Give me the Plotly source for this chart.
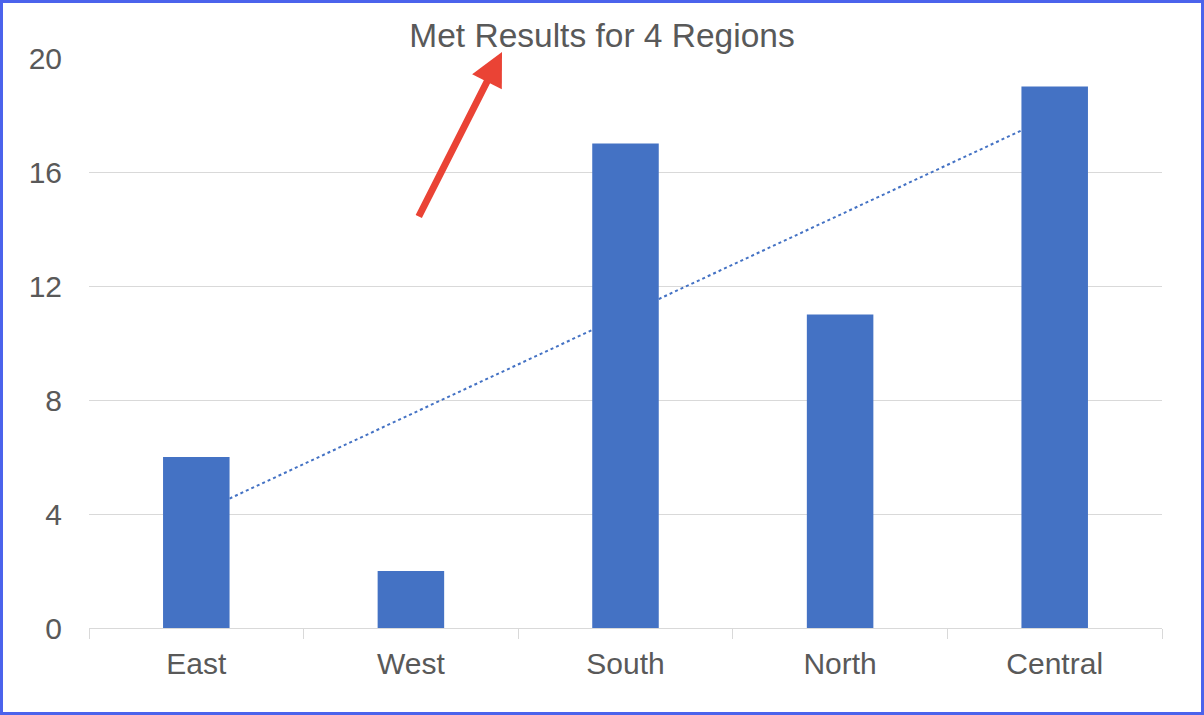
import numpy as np
import plotly.graph_objects as go

categories = ["East", "West", "South", "North", "Central"]
values = [6, 2, 17, 11, 19]
y_ticks = [0, 4, 8, 12, 16, 20]
title_text = "Met Results for 4 Regions"

W, H = 1204, 715
ML, MR, MT, MB = 89, 42, 58, 87
PW, PH = W - ML - MR, H - MT - MB
BAR_W = 0.31
TEXT = "#595959"
GRID = "#d9d9d9"
BLUE = "#4472C4"

# linear trendline (least squares) over category positions, hidden behind bars
pos = np.arange(len(categories))
slope, intercept = np.polyfit(pos, values, 1)
seg_x = []
for a, b in [(0, 2), (2, 4)]:
    seg_x += [a + BAR_W / 2, b - BAR_W / 2, None]
seg_y = [None if x is None else slope * x + intercept for x in seg_x]

fig = go.Figure()
fig.add_trace(go.Bar(x=categories, y=values, width=BAR_W,
                     marker=dict(color=BLUE, line=dict(width=0)),
                     xaxis="x", yaxis="y", showlegend=False))
fig.add_trace(go.Scatter(x=seg_x, y=seg_y, mode="lines",
                         line=dict(color=BLUE, width=2, dash="dot"),
                         xaxis="x2", yaxis="y", showlegend=False, connectgaps=False))

def px_to_paper_x(p):
    return (p - ML) / PW

def px_to_paper_y(p):
    return (H - MB - p) / PH

fig.update_layout(
    width=W, height=H,
    margin=dict(l=ML, r=MR, t=MT, b=MB),
    paper_bgcolor="white", plot_bgcolor="white",
    font=dict(family="Liberation Sans, Arial, sans-serif", color=TEXT, size=30),
    title=dict(text=title_text, x=0.5, xanchor="center", xref="container",
               y=1 - 35 / H, yanchor="middle", yref="container",
               font=dict(size=33.5, color=TEXT)),
    xaxis=dict(type="category", categoryorder="array", categoryarray=categories,
               range=[-0.5, 4.5], showgrid=False, showline=True, linecolor=GRID, linewidth=1,
               ticks="outside", tickson="boundaries", ticklen=10, tickcolor=GRID,
               ticklabelstandoff=9,
               tickfont=dict(size=30, color=TEXT), zeroline=False, fixedrange=True),
    xaxis2=dict(overlaying="x", range=[-0.5, 4.5], visible=False, fixedrange=True),
    yaxis=dict(range=[0, 20], tickmode="array", tickvals=y_ticks,
               showgrid=True, gridcolor=GRID, gridwidth=1, zeroline=False,
               showline=False, ticks="", ticklabelstandoff=26,
               tickfont=dict(size=30, color=TEXT), fixedrange=True),
    showlegend=False,
)

# red arrow pointing at the title
fig.add_annotation(x=px_to_paper_x(502), y=px_to_paper_y(52), xref="paper", yref="paper",
                   text="", showarrow=True, axref="pixel", ayref="pixel",
                   ax=418 - 502, ay=218 - 52,
                   arrowhead=2, arrowsize=0.95, arrowwidth=7, arrowcolor="#ea4335")

# blue outer border
fig.add_shape(type="rect", xref="paper", yref="paper",
              x0=px_to_paper_x(1.5), x1=px_to_paper_x(W - 1.5),
              y0=px_to_paper_y(H - 1.5), y1=px_to_paper_y(1.5),
              line=dict(color="#4b63ec", width=3), fillcolor="rgba(0,0,0,0)", layer="above")

fig.write_html("out.html", config={"displayModeBar": False},
               post_script="document.body.style.margin='0px';document.body.style.overflow='hidden';")
